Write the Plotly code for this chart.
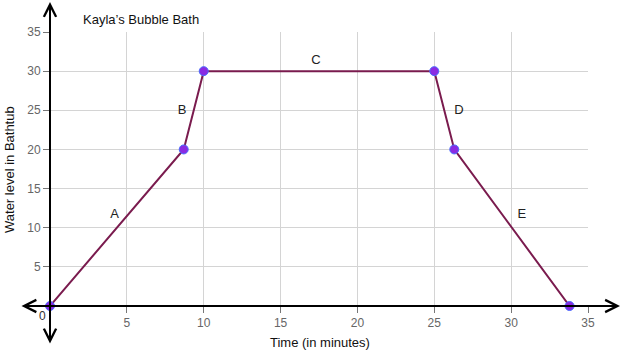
import plotly.graph_objects as go

# ---- data ----
time_min = [0, 8.7, 10, 25, 26.3, 33.8]
water_level = [0, 20, 30, 30, 20, 0]

segment_labels = ["A", "B", "C", "D", "E"]
label_time = [4.2, 8.6, 17.3, 26.6, 30.7]
label_level = [11.6, 25.0, 31.3, 25.0, 11.6]

x_ticks = [5, 10, 15, 20, 25, 30, 35]
y_ticks = [5, 10, 15, 20, 25, 30, 35]

FONT = "Liberation Sans, Arial, Helvetica, sans-serif"

fig = go.Figure()

fig.add_trace(go.Scatter(
    x=time_min, y=water_level, mode="lines+markers",
    line=dict(color="#7a1b4e", width=2),
    marker=dict(size=9, color="#8a2be2", line=dict(color="#4a6cff", width=1)),
    cliponaxis=False, hoverinfo="x+y", showlegend=False,
))

fig.add_trace(go.Scatter(
    x=label_time, y=label_level, mode="text", text=segment_labels,
    textfont=dict(family=FONT, size=13, color="#222222"),
    showlegend=False, hoverinfo="skip",
))

axis_common = dict(
    range=[0, 35], showgrid=True, gridcolor="#d4d4d4", gridwidth=1,
    zeroline=False, showline=False, ticks="outside", ticklen=6,
    tickcolor="#777777", tickwidth=1,
    tickfont=dict(family=FONT, size=12, color="#666666"),
    fixedrange=True, automargin=False,
)

fig.update_xaxes(**axis_common, tickvals=x_ticks, ticktext=[str(v) for v in x_ticks])
fig.update_yaxes(**axis_common, tickvals=y_ticks, ticktext=[str(v) for v in y_ticks])

L, R, T, B = 50, 36, 32, 44
W, H = 624, 350
pw, ph = W - L - R, H - T - B

def px_x(p):
    return (p - L) / pw

def px_y(p):
    return (H - B - p) / ph

# axis lines with arrows on both ends
fig.add_annotation(
    xref="paper", yref="paper", x=px_x(620), y=0, axref="pixel", ayref="pixel",
    ax=-(620 - 20), ay=0, text="", showarrow=True, arrowside="end+start",
    arrowhead=5, startarrowhead=5, arrowsize=1.2, startarrowsize=1.2,
    arrowwidth=2, arrowcolor="#000000", standoff=0, startstandoff=0,
)
fig.add_annotation(
    xref="paper", yref="paper", x=0, y=px_y(2), axref="pixel", ayref="pixel",
    ax=0, ay=(345 - 2), text="", showarrow=True, arrowside="end+start",
    arrowhead=5, startarrowhead=5, arrowsize=1.2, startarrowsize=1.2,
    arrowwidth=2, arrowcolor="#000000", standoff=0, startstandoff=0,
)
# origin label
fig.add_annotation(
    xref="paper", yref="paper", x=px_x(42), y=px_y(316), text="0",
    xanchor="center", yanchor="middle",
    showarrow=False, font=dict(family=FONT, size=12, color="#333333"),
)
# axis titles
fig.add_annotation(
    xref="paper", yref="paper", x=px_x(320), y=px_y(342), text="Time (in minutes)",
    xanchor="center", yanchor="middle",
    showarrow=False, font=dict(family=FONT, size=13, color="#111111"),
)
fig.add_annotation(
    xref="paper", yref="paper", x=px_x(10), y=px_y(170), text="Water level in Bathtub",
    xanchor="center", yanchor="middle",
    textangle=-90, showarrow=False, font=dict(family=FONT, size=13, color="#111111"),
)

fig.update_layout(
    width=W, height=H,
    margin=dict(l=L, r=R, t=T, b=B),
    paper_bgcolor="white", plot_bgcolor="white",
    title=dict(text="Kayla’s Bubble Bath", x=83 / W, xanchor="left",
               y=1 - 19 / H, yanchor="middle",
               font=dict(family=FONT, size=13, color="#111111")),
)

fig.write_html("out.html")
